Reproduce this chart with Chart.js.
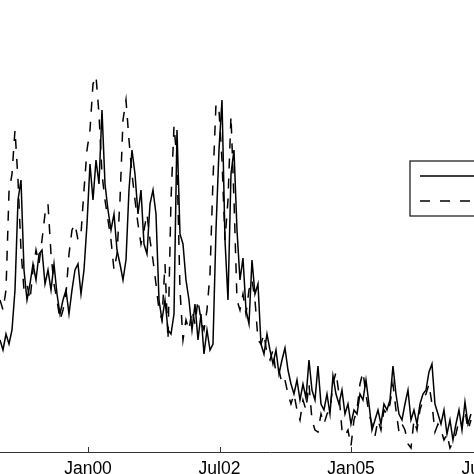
<!DOCTYPE html>
<html><head><meta charset="utf-8">
<script src="https://cdn.jsdelivr.net/npm/chart.js@4.4.1/dist/chart.umd.min.js"></script>
<style>
html,body{margin:0;padding:0;overflow:hidden;background:#fff;width:474px;height:474px}
#wrap{position:absolute;left:0;top:0;width:540px;height:490px}
</style></head><body>
<div id="wrap"><canvas id="c" width="540" height="490"></canvas></div>
<script>
// time axis: regular sampling (decimal years)
const startYear = 1998.327;
const stepYears = 0.05703;
const xMin = 1998.327, xMax = 2008.593;
const yMin = 0, yMax = 22.6;

const solidSeries = [5.6,5.1,5.9,5.4,6.1,8.1,12.6,13.6,9.1,7.6,
8.4,9.4,8.6,9.9,10.1,8.4,9.1,8.1,9.4,7.9,
6.9,7.6,8.1,6.9,8.1,9.1,9.4,7.9,9.1,11.4,
14.4,12.6,14.6,13.4,17.1,13.4,12.1,11.1,11.9,10.1,
9.4,8.6,9.6,13.1,15.1,13.9,11.9,13.1,10.4,9.9,
12.4,13.1,11.9,7.6,6.6,7.6,6.1,5.9,6.9,16.1,
10.9,10.4,8.6,7.6,6.1,7.4,5.6,6.9,4.9,6.1,
5.1,5.4,11.1,15.1,17.6,10.6,7.6,13.9,15.1,11.1,
8.6,9.7,7.1,6.4,9.6,7.9,8.4,5.4,4.9,5.9,
5.1,4.4,5.1,3.9,4.6,5.2,4.1,3.4,2.9,3.6,
2.6,3.4,2.7,4.6,3.1,2.6,4.3,2.4,2.1,2.9,
1.9,3.8,2.9,2.4,3.1,1.9,2.4,1.4,2.1,1.9,
2.9,2.6,3.6,2.4,1.1,1.6,2.1,1.4,2.4,2.1,
2.6,4.3,2.9,1.9,1.6,2.4,3.1,1.6,2.1,1.4,
2.4,2.9,3.1,4.0,4.4,2.4,1.9,1.4,2.1,0.9,
1.6,0.6,1.4,2.1,1.1,2.5,1.4,1.9];

const dashedSeries = [7.6,7.1,8.1,13.0,13.9,16.1,13.6,10.1,8.1,8.4,
7.6,9.1,10.1,9.4,10.6,11.9,12.4,9.9,8.4,7.6,
6.6,7.1,7.9,9.9,11.1,11.4,10.6,10.9,13.1,15.1,
16.1,18.4,18.8,16.9,13.9,12.6,11.6,10.6,9.1,9.9,
12.6,16.6,17.6,15.6,13.9,12.6,11.4,10.4,11.1,11.9,
10.6,9.6,8.4,7.1,6.6,9.4,5.6,12.6,16.3,14.6,
8.1,5.6,6.6,6.1,7.1,6.4,7.6,6.6,6.1,7.1,
8.9,13.6,17.4,17.1,14.6,10.6,12.6,16.8,12.6,7.6,
7.1,7.9,6.9,8.1,8.6,7.6,5.6,5.4,5.9,4.9,
4.6,5.1,3.9,4.1,3.4,3.6,2.9,2.4,2.9,2.1,
1.6,2.6,2.1,3.4,1.6,1.1,1.0,1.9,1.4,1.9,
2.1,3.4,4.0,2.9,1.1,0.8,1.1,0.3,1.6,2.1,
3.4,4.0,2.9,1.9,1.4,0.8,1.6,1.1,2.1,1.9,
2.4,3.4,2.1,1.0,1.4,1.1,0.4,0.2,1.6,1.1,
2.1,2.6,2.9,3.4,2.4,1.0,1.4,1.1,0.6,0.9,
0.2,0.5,0.9,1.6,1.4,2.1,1.1,1.6];

const tickValues = [2000, 2002.5, 2005, 2007.5];
const tickLabels = ['Jan00', 'Jul02', 'Jan05', 'Jul07'];
const seriesLabels = ['Series 1', 'Series 2'];

const dates = solidSeries.map((_, i) => startYear + i * stepYears);
const toPoints = arr => arr.map((v, i) => ({x: dates[i], y: v}));

const innerTicks = {
  id: 'innerTicks',
  afterDatasetsDraw(chart) {
    const {ctx, chartArea} = chart;
    const x = chart.scales.x;
    ctx.save();
    ctx.strokeStyle = '#333';
    ctx.lineWidth = 1;
    tickValues.forEach(v => {
      const px = Math.round(x.getPixelForValue(v)) + 0.5;
      ctx.beginPath();
      ctx.moveTo(px, chartArea.bottom);
      ctx.lineTo(px, chartArea.bottom - 5);
      ctx.stroke();
    });
    ctx.restore();
  }
};

const boxLegend = {
  id: 'boxLegend',
  afterDraw(chart) {
    const ctx = chart.ctx;
    ctx.save();
    ctx.fillStyle = '#fff';
    ctx.fillRect(410, 161, 200, 55);
    ctx.strokeStyle = '#222';
    ctx.lineWidth = 1.3;
    ctx.strokeRect(410, 161, 200, 55);
    chart.data.datasets.forEach((ds, k) => {
      const y = 176 + k * 25;
      ctx.beginPath();
      ctx.setLineDash(ds.borderDash || []);
      ctx.strokeStyle = ds.borderColor;
      ctx.lineWidth = ds.borderWidth;
      ctx.moveTo(420, y);
      ctx.lineTo(482, y);
      ctx.stroke();
    });
    ctx.restore();
  }
};

new Chart(document.getElementById('c'), {
  type: 'line',
  data: {
    datasets: [
      {label: seriesLabels[0], data: toPoints(solidSeries), borderColor: '#000', borderWidth: 1.5, pointRadius: 0, tension: 0, fill: false},
      {label: seriesLabels[1], data: toPoints(dashedSeries), borderColor: '#000', borderWidth: 1.5, borderDash: [10, 10], pointRadius: 0, tension: 0, fill: false}
    ]
  },
  options: {
    responsive: false,
    animation: false,
    events: [],
    layout: {padding: 0},
    plugins: {legend: {display: false}, tooltip: {enabled: false}},
    scales: {
      x: {
        type: 'linear', min: xMin, max: xMax,
        afterBuildTicks: s => { s.ticks = tickValues.map(v => ({value: v})); },
        afterFit: s => { s.height = 38; },
        grid: {display: true, drawOnChartArea: false, drawTicks: false},
        border: {display: true, color: '#333', width: 1},
        ticks: {
          autoSkip: false, maxRotation: 0, padding: 7, color: '#000',
          font: {family: '"Liberation Sans", Arial, sans-serif', size: 17.5},
          callback: v => { const k = tickValues.indexOf(v); return k >= 0 ? tickLabels[k] : ''; }
        }
      },
      y: {display: false, min: yMin, max: yMax}
    }
  },
  plugins: [innerTicks, boxLegend]
});
</script>
</body></html>
